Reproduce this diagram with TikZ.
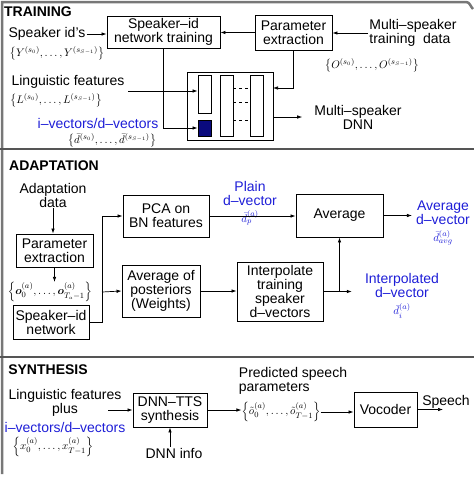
\documentclass[tikz,border=0pt]{standalone}
\usepackage{amsmath}
\usepackage{fontspec}
\setmainfont{Liberation Sans}
\usetikzlibrary{positioning, arrows.meta}

\definecolor{vecblue}{RGB}{30,30,215}
\definecolor{layerblue}{RGB}{10,10,125}
\definecolor{rulegray}{RGB}{85,85,85}
\newcommand{\dsym}[1]{{\fontsize{11}{12}\selectfont$#1$}}

\begin{document}
\begin{tikzpicture}[x=1pt, y=-1pt,
    blk/.style={draw, line width=0.9pt, align=center, inner sep=0pt, font=\fontsize{14}{14}\selectfont},
    txt/.style={align=center, inner sep=1pt, font=\fontsize{14}{14}\selectfont},
    vec/.style={txt, text=vecblue},
    seq/.style={inner sep=0pt, font=\fontsize{11}{12}\selectfont},
    head/.style={font=\bfseries\fontsize{14}{14}\selectfont},
    layer/.style={draw, line width=0.8pt, inner sep=0pt, minimum width=13pt},
    arr/.style={-{Latex[length=5pt, width=3.5pt]}, line width=0.7pt},
    sep/.style={rulegray, line width=1.6pt}
]
    \useasboundingbox (0,0) rectangle (474,477);

    % Frame and section rules
    \draw[rulegray!80, line width=2.5pt] (2,474) -- (2,2) -- (466,2) to[out=0, in=135] (473,9);
    \draw[sep] (0,149) -- (474,149);
    \draw[sep] (0,357) -- (474,357);

    % TRAINING
    \node[head] (train) at (38,12) {TRAINING};
    \node[blk, minimum width=113pt, minimum height=32pt] (spkid) at (163.5,32) {Speaker--id\\network training};
    \node[blk, minimum width=77pt, minimum height=35pt] (pext) at (293.5,32.5) {Parameter\\extraction};
    \node[txt] (spkids) at (47,34) {Speaker id's};
    \node[seq] (yset) at (57,53) {$\left\{Y^{(s_0)},\ldots,Y^{(s_{S-1})}\right\}$};
    \node[txt, align=left] (mdata) at (413,33) {Multi--speaker\\training\ \ data};
    \node[seq] (oset) at (372,65) {$\left\{O^{(s_0)},\ldots,O^{(s_{S-1})}\right\}$};
    \node[txt] (ling) at (68,82) {Linguistic features};
    \node[seq] (lset) at (56,100) {$\left\{L^{(s_0)},\ldots,L^{(s_{S-1})}\right\}$};
    \node[vec] (ivec) at (98,123) {i--vectors/d--vectors};
    \node[seq] (dset) at (112,140) {$\left\{\bar{d}^{(s_0)},\ldots,\bar{d}^{(s_{S-1})}\right\}$};
    \node[txt] (msdnn) at (358,117) {Multi--speaker\\DNN};

    % multi-speaker DNN
    \node[blk, minimum width=86pt, minimum height=68pt] (dnn) at (230,106) {};
    \node[layer, minimum height=38pt] (l1a) at (204.5,94) {};
    \node[layer, minimum height=16pt, fill=layerblue] (l1b) at (204.5,128) {};
    \node[layer, minimum height=61pt] (l2) at (226.5,105.5) {};
    \node[layer, minimum height=61pt] (l3) at (257,105.5) {};
    \foreach \y in {88,102,120}
        \draw[dashed, line width=0.6pt] (l2.east |- 0,\y) -- (l3.west |- 0,\y);

    \coordinate (dnnin) at (273,88);
    \coordinate (lingout) at (128,91);
    \draw[arr] (spkids.east) -- (spkids.east -| spkid.west);
    \draw[arr] (pext.west) -- (pext.west -| spkid.east);
    \draw[arr] (mdata.west) -- (mdata.west -| pext.east);
    \draw[arr] (pext.south) |- (dnnin);
    \draw[arr] (lingout) -- (lingout -| l1a.west);
    \draw[arr] (spkid.south) |- (l1b.west);
    \draw[arr, shorten >=11pt] (dnn.east |- msdnn) -- (msdnn.west);

    % ADAPTATION
    \node[head] (adapt) at (54,166) {ADAPTATION};
    \node[txt] (adata) at (53,195) {Adaptation\\data};
    \node[blk, minimum width=77pt, minimum height=33pt] (apext) at (54.5,250.5) {Parameter\\extraction};
    \node[seq] (aoset) at (50,292) {$\left\{\boldsymbol{o}_0^{(a)},\ldots,\boldsymbol{o}_{T_a-1}^{(a)}\right\}$};
    \node[blk, minimum width=76pt, minimum height=34pt] (spknet) at (51,322) {Speaker--id\\network};
    \node[blk, minimum width=86pt, minimum height=42pt] (pca) at (166,216) {PCA on\\BN features};
    \node[vec] (plain) at (250,203) {Plain\\d--vector\\[3pt]\dsym{\bar{d}_p^{(a)}}};
    \node[blk, minimum width=87pt, minimum height=43pt] (avg) at (339.5,215.5) {Average};
    \node[vec] (avgd) at (443,223) {Average\\d--vector\\[3pt]\dsym{\bar{d}_{avg}^{(a)}}};
    \node[blk, minimum width=78pt, minimum height=52pt] (post) at (161,291) {Average of\\posteriors\\(Weights)};
    \node[blk, minimum width=86pt, minimum height=59pt] (interp) at (280,291.5) {Interpolate\\training\\speaker\\d--vectors};
    \node[vec] (interpd) at (402,296) {Interpolated\\d--vector\\[3pt]\dsym{\bar{d}_i^{(a)}}};

    \coordinate (split) at (102,292);
    \coordinate (tap) at (avg.south |- interp.east);
    \draw[arr] (adata.south) -- (adata.south |- apext.north);
    \draw[arr] (apext.south) -- (apext.south |- aoset.north);
    \draw (spknet.east) -| (split);
    \draw[arr] (split) |- (pca.west);
    \draw[arr] (split) -- (post.west);
    \draw[arr] (pca.east) -- (pca.east -| avg.west);
    \draw[arr, shorten >=3pt] (avg.east) -- (avg.east -| avgd.west);
    \draw[arr] (post.east) -- (post.east -| interp.west);
    \draw[arr, shorten >=12pt] (interp.east) -- (interp.east -| interpd.west);
    \draw[arr] (tap) -- (avg.south);

    % SYNTHESIS
    \node[head] (synth) at (48,370) {SYNTHESIS};
    \node[txt] (lingp) at (65,403) {Linguistic features\\plus};
    \node[vec] (ivec2) at (65,427) {i--vectors/d--vectors};
    \node[seq] (xset) at (53,447) {$\left\{x_0^{(a)},\ldots,x_{T-1}^{(a)}\right\}$};
    \node[blk, minimum width=74pt, minimum height=34pt] (tts) at (170,410) {DNN--TTS\\synthesis};
    \node[txt] (dinfo) at (174,453) {DNN info};
    \node[txt, align=left] (pred) at (293,381) {Predicted speech\\parameters};
    \node[seq] (pset) at (281,412) {$\left\{\tilde{o}_0^{(a)},\ldots,\tilde{o}_{T-1}^{(a)}\right\}$};
    \node[blk, minimum width=63pt, minimum height=35pt] (voc) at (385.5,409.5) {Vocoder};
    \node[txt] (speech) at (446,402) {Speech};

    \coordinate (synin) at (108,410);
    \coordinate (vout) at (443,409.5);
    \draw[arr] (synin) -- (tts.west);
    \draw[arr] (dinfo.north -| tts.south) -- (tts.south);
    \draw[arr] (tts.east) -- (tts.east -| pset.west);
    \draw[arr] (pset.east) -- (pset.east -| voc.west);
    \draw[arr] (voc.east) -- (vout);

\end{tikzpicture}
\end{document}
